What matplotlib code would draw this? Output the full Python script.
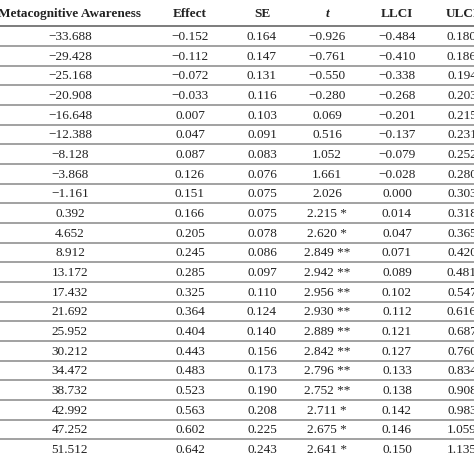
import matplotlib.pyplot as plt

columns = ["Metacognitive Awareness", "Effect", "SE", "t", "LLCI", "ULCI"]
moderator = ["\u221233.688", "\u221229.428", "\u221225.168", "\u221220.908", "\u221216.648", "\u221212.388",
             "\u22128.128", "\u22123.868", "\u22121.161", "0.392", "4.652", "8.912", "13.172", "17.432",
             "21.692", "25.952", "30.212", "34.472", "38.732", "42.992", "47.252", "51.512"]
effect = ["\u22120.152", "\u22120.112", "\u22120.072", "\u22120.033", "0.007", "0.047", "0.087", "0.126",
          "0.151", "0.166", "0.205", "0.245", "0.285", "0.325", "0.364", "0.404", "0.443", "0.483",
          "0.523", "0.563", "0.602", "0.642"]
se = ["0.164", "0.147", "0.131", "0.116", "0.103", "0.091", "0.083", "0.076", "0.075", "0.075",
      "0.078", "0.086", "0.097", "0.110", "0.124", "0.140", "0.156", "0.173", "0.190", "0.208",
      "0.225", "0.243"]
tval = ["\u22120.926", "\u22120.761", "\u22120.550", "\u22120.280", "0.069", "0.516", "1.052", "1.661",
        "2.026", "2.215 *", "2.620 *", "2.849 **", "2.942 **", "2.956 **", "2.930 **", "2.889 **",
        "2.842 **", "2.796 **", "2.752 **", "2.711 *", "2.675 *", "2.641 *"]
llci = ["\u22120.484", "\u22120.410", "\u22120.338", "\u22120.268", "\u22120.201", "\u22120.137", "\u22120.079",
        "\u22120.028", "0.000", "0.014", "0.047", "0.071", "0.089", "0.102", "0.112", "0.121",
        "0.127", "0.133", "0.138", "0.142", "0.146", "0.150"]
ulci = ["0.180", "0.186", "0.194", "0.203", "0.215", "0.231", "0.252", "0.280", "0.303", "0.318",
        "0.365", "0.420", "0.481", "0.547", "0.616", "0.687", "0.760", "0.834", "0.908", "0.983",
        "1.059", "1.135"]

fig = plt.figure(figsize=(4.74, 4.60), dpi=100)
ax = fig.add_axes([0, 0, 1, 1])
ax.set_xlim(0, 474)
ax.set_ylim(460, 0)
ax.axis("off")

font = dict(family=["Liberation Serif", "DejaVu Serif"], fontsize=9.5, color="#222222")
col_x = [70, 190, 262, 327, 397, 462]
header_y = 14
row_y0 = 37
row_h = (450 - 37) / 21

for x, c in zip(col_x, columns):
    ax.text(x, header_y, c, ha="center", va="center", fontweight="bold",
            style="italic" if c == "t" else "normal", **font)
ax.plot([0, 474], [header_y + 13, header_y + 13], color="#666666", lw=1.2)

data = [moderator, effect, se, tval, llci, ulci]
for i in range(len(moderator)):
    y = row_y0 + i * row_h
    for x, col in zip(col_x, data):
        ax.text(x, y, col[i], ha="center", va="center", **font)
    if i < len(moderator) - 1:
        ax.plot([0, 474], [y + row_h / 2, y + row_h / 2], color="#9a9a9a", lw=1.3)

fig.savefig("out.png", dpi=100)
